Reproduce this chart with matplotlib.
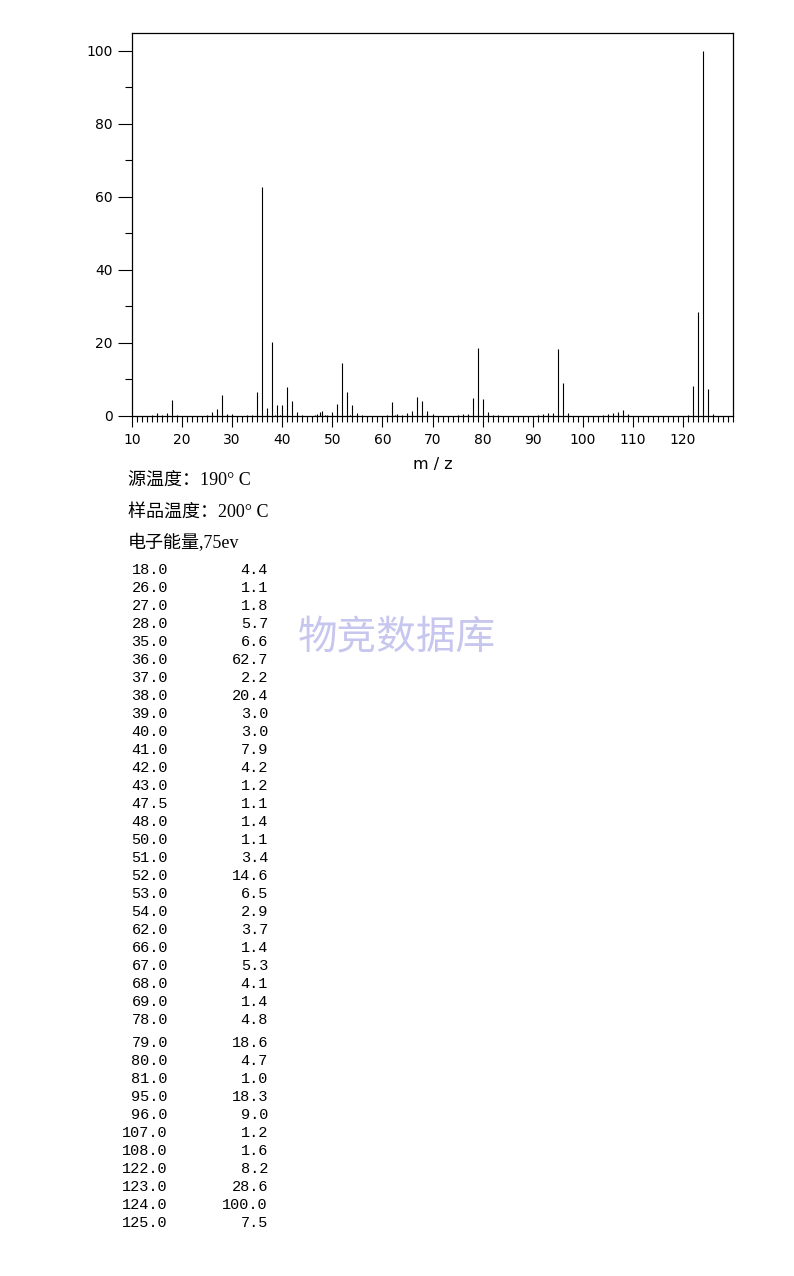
import matplotlib
matplotlib.use("Agg")
import matplotlib.pyplot as plt
from matplotlib.ticker import MultipleLocator

# listed peaks (m/z, relative intensity)
table_mz = [18.0, 26.0, 27.0, 28.0, 35.0, 36.0, 37.0, 38.0, 39.0, 40.0,
            41.0, 42.0, 43.0, 47.5, 48.0, 50.0, 51.0, 52.0, 53.0, 54.0,
            62.0, 66.0, 67.0, 68.0, 69.0, 78.0, 79.0, 80.0, 81.0, 95.0,
            96.0, 107.0, 108.0, 122.0, 123.0, 124.0, 125.0]
table_int = [4.4, 1.1, 1.8, 5.7, 6.6, 62.7, 2.2, 20.4, 3.0, 3.0,
             7.9, 4.2, 1.2, 1.1, 1.4, 1.1, 3.4, 14.6, 6.5, 2.9,
             3.7, 1.4, 5.3, 4.1, 1.4, 4.8, 18.6, 4.7, 1.0, 18.3,
             9.0, 1.2, 1.6, 8.2, 28.6, 100.0, 7.5]

# small unlisted peaks
minor_mz = [14, 15, 16, 17, 19, 25, 29, 30, 33, 34, 38.5, 39.5, 44,
            46.5, 47, 48.5, 49, 53.5, 55, 56, 61, 62.5, 63, 64, 65, 70,
            75, 76, 77, 82, 83, 91, 92, 93, 94, 97, 104, 105, 106, 109,
            121, 126]
minor_int = [0.3, 0.8, 0.3, 0.8, 0.3, 0.3, 0.5, 0.5, 0.3, 0.3, 0.3, 0.3, 0.3,
             0.3, 0.5, 0.3, 0.3, 0.2, 0.8, 0.3, 0.3, 0.3, 0.5, 0.3, 0.8, 0.5,
             0.3, 0.5, 0.5, 0.3, 0.3, 0.3, 0.5, 0.8, 0.8, 0.8, 0.3, 0.5, 0.8, 0.5,
             0.3, 0.5]

info_lines = ["源温度：190° C", "样品温度：200° C", "电子能量,75ev"]

W, H = 794, 1276
fig = plt.figure(figsize=(W / 100, H / 100), dpi=100)
ax = fig.add_axes([132 / W, 1 - 416 / H, (733 - 132) / W, (416 - 32.7) / H])

ax.vlines(minor_mz, 0, minor_int, colors="black", lw=0.8)
ax.vlines(table_mz, 0, table_int, colors="black", lw=0.8)

ax.set_xlim(10, 130)
ax.set_ylim(0, 105)
ax.xaxis.set_major_locator(MultipleLocator(10))
ax.xaxis.set_minor_locator(MultipleLocator(1))
ax.yaxis.set_major_locator(MultipleLocator(20))
ax.yaxis.set_minor_locator(MultipleLocator(10))
ax.set_xticks(range(10, 121, 10))
ax.tick_params(which="major", direction="out", length=8, width=0.8,
               labelsize=10, pad=4)
ax.tick_params(which="minor", direction="out", length=4.5, width=0.8)
ax.tick_params(axis="y", which="major", length=10)
ax.tick_params(axis="y", which="minor", length=5)
for s in ax.spines.values():
    s.set_linewidth(0.9)

fig.text(432.5 / W, 1 - 465 / H, "m / z", ha="center", va="center",
         fontsize=11.5, family="DejaVu Sans")

# header lines
for i, t in enumerate(info_lines):
    y = [480, 512, 543][i]
    fig.text(128 / W, 1 - y / H, t, ha="left", va="center", fontsize=13,
             family=["Liberation Serif", "Noto Sans CJK SC", "DejaVu Sans"])

# peak table
for i, (m, v) in enumerate(zip(table_mz, table_int)):
    y = 570 + 18 * i + (5 if i >= 26 else 0)
    fig.text(168 / W, 1 - y / H, f"{m:.1f}", ha="right", va="center",
             fontsize=11, family="Liberation Mono")
    fig.text(268 / W, 1 - y / H, f"{v:.1f}", ha="right", va="center",
             fontsize=11, family="Liberation Mono")

# watermark
fig.text(397 / W, 1 - 637 / H, "物竞数据库", ha="center", va="center",
         fontsize=28.5, color="#c6c6ee", family="Noto Sans CJK SC")

fig.savefig("out.png", dpi=100)
